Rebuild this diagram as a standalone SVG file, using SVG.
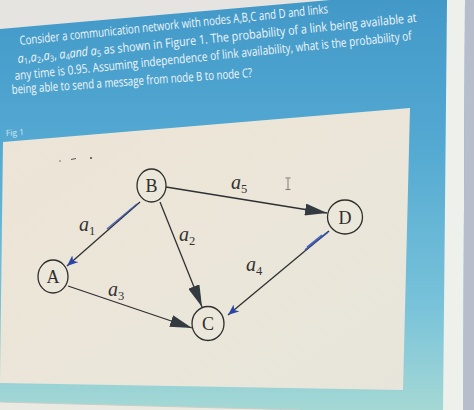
<svg xmlns="http://www.w3.org/2000/svg" width="474" height="410" viewBox="0 0 474 410">
  <defs>
    <linearGradient id="blueGrad" x1="0" y1="0" x2="0" y2="1">
      <stop offset="0" stop-color="#4299c8"/>
      <stop offset="0.35" stop-color="#53a9d2"/>
      <stop offset="0.75" stop-color="#79c3da"/>
      <stop offset="1" stop-color="#a4d8d4"/>
    </linearGradient>
    <linearGradient id="creamGrad" x1="0" y1="0" x2="1" y2="1">
      <stop offset="0" stop-color="#ede4d6"/>
      <stop offset="0.5" stop-color="#ebe6d9"/>
      <stop offset="1" stop-color="#e7e5db"/>
    </linearGradient>
    <marker id="arrowDark" viewBox="0 0 22 12" refX="22" refY="6" markerWidth="22" markerHeight="12" markerUnits="userSpaceOnUse" orient="auto">
      <path d="M0,0 L22,6 L0,12 Z" fill="#333a40"/>
    </marker>
    <marker id="arrowBlue" viewBox="0 0 11 9" refX="11" refY="4.5" markerWidth="11" markerHeight="9" markerUnits="userSpaceOnUse" orient="auto">
      <path d="M0,0 L11,4.5 L0,9 L3,4.5 Z" fill="#2a45a6"/>
    </marker>
    <style>
      .para { font-family: "Open Sans", "Liberation Sans", sans-serif; font-size: 12.5px; fill: #f2f5f7; }
      .node ellipse { fill: #ebe7da; stroke: #2e2e2e; stroke-width: 1.3; }
      .node text { font-family: "Liberation Serif", "DejaVu Serif", serif; font-size: 18px; fill: #2e2e2e; text-anchor: middle; }
      .edge { stroke: #2f3033; stroke-width: 1.3; fill: none; }
      .lbl { font-family: "Liberation Serif", "DejaVu Serif", serif; font-style: italic; font-size: 20px; fill: #333; }
      .sub { font-size: 12.5px; font-style: normal; }
      .blueStroke { stroke: #3552b0; stroke-width: 1.6; fill: none; opacity: 0.85; }
    </style>
  </defs>

  <!-- background screen -->
  <rect x="0" y="0" width="474" height="410" fill="url(#blueGrad)"/>
  <polygon points="0,0 330,0 0,29" fill="#e6e4e1"/>
  <polygon points="447,0 465,0 463,410 443,410" fill="#eef0ec"/>
  <polygon points="465,0 474,0 474,410 463,410" fill="#b7bdcb"/>
  <polygon points="0,402 300,410 0,410" fill="#eae9e2"/>
  <line x1="0" y1="402" x2="300" y2="410" stroke="#c9cdc8" stroke-width="1"/>

  <!-- question text -->
  <text class="para" transform="translate(20,45) rotate(-5.9)" textLength="310" lengthAdjust="spacingAndGlyphs">Consider a communication network with nodes A,B,C and D and links</text>
  <text class="para" transform="translate(18,63) rotate(-5.9)" textLength="401" lengthAdjust="spacingAndGlyphs"><tspan font-style="italic">a</tspan><tspan font-size="8.5" dy="2">1</tspan><tspan dy="-2">,</tspan><tspan font-style="italic">a</tspan><tspan font-size="8.5" dy="2">2</tspan><tspan dy="-2">,</tspan><tspan font-style="italic">a</tspan><tspan font-size="8.5" dy="2">3</tspan><tspan dy="-2">, </tspan><tspan font-style="italic">a</tspan><tspan font-size="8.5" dy="2">4</tspan><tspan dy="-2" font-style="italic">and a</tspan><tspan font-size="8.5" dy="2">5</tspan><tspan dy="-2"> as shown in Figure 1. The probability of a link being available at</tspan></text>
  <text class="para" transform="translate(15,80) rotate(-5.75)" textLength="399" lengthAdjust="spacingAndGlyphs">any time is 0.95. Assuming independence of link availability, what is the probability of</text>
  <text class="para" transform="translate(12,94) rotate(-4.05)" textLength="241" lengthAdjust="spacingAndGlyphs">being able to send a message from node B to node C?</text>

  <!-- Fig label -->
  <text transform="translate(6,136) rotate(-3)" font-family="'Open Sans', 'Liberation Sans', sans-serif" font-size="8.5" fill="#d4e4ea">Fig 1</text>

  <!-- figure panel -->
  <polygon points="3,142 410,108 403,390 0,383" fill="url(#creamGrad)"/>

  <!-- small scan marks -->
  <circle cx="60" cy="161" r="0.8" fill="#666"/>
  <line x1="71" y1="159.5" x2="76" y2="158.5" stroke="#555" stroke-width="1"/>
  <circle cx="91" cy="158" r="1" fill="#444"/>

  <!-- connectors -->
  <g id="connectors">
    <line class="edge" x1="166" y1="187" x2="327" y2="213" marker-end="url(#arrowDark)"/>
    <line class="edge" x1="160" y1="202" x2="202" y2="307" marker-end="url(#arrowDark)"/>
    <line class="edge" x1="68" y1="286" x2="192" y2="328" marker-end="url(#arrowDark)"/>
    <line class="edge" x1="140" y1="202" x2="67" y2="266" marker-end="url(#arrowBlue)"/>
    <line class="blueStroke" x1="107" y1="229" x2="137" y2="204"/>
    <line class="edge" x1="329" y1="231" x2="228" y2="315" marker-end="url(#arrowBlue)"/>
    <line class="blueStroke" x1="305" y1="250" x2="328" y2="232"/>
    <line class="blueStroke" x1="307" y1="247" x2="322" y2="235" stroke-width="1"/>
  </g>

  <!-- edge labels -->
  <text class="lbl" x="79" y="231">a<tspan class="sub" dy="4">1</tspan></text>
  <text class="lbl" x="179" y="241">a<tspan class="sub" dy="4">2</tspan></text>
  <text class="lbl" x="108" y="296">a<tspan class="sub" dy="4">3</tspan></text>
  <text class="lbl" x="246" y="271">a<tspan class="sub" dy="4">4</tspan></text>
  <text class="lbl" x="231" y="189">a<tspan class="sub" dy="4">5</tspan></text>

  <!-- text cursor -->
  <path d="M288,178.5 V189 M285.5,178 H290.5 M285.5,189.5 H290.5" stroke="#7a7a7a" stroke-width="1" fill="none"/>

  <!-- nodes -->
  <g id="node-B" class="node">
    <ellipse cx="151.5" cy="185.5" rx="14.5" ry="16.5"/>
    <text x="151.5" y="192">B</text>
  </g>
  <g id="node-A" class="node">
    <ellipse cx="53" cy="276.5" rx="15" ry="16.5"/>
    <text x="53" y="283">A</text>
  </g>
  <g id="node-C" class="node">
    <ellipse cx="208" cy="323.5" rx="16" ry="17"/>
    <text x="208" y="330">C</text>
  </g>
  <g id="node-D" class="node">
    <ellipse cx="345" cy="217" rx="17.5" ry="17"/>
    <text x="345" y="223.5">D</text>
  </g>
</svg>
